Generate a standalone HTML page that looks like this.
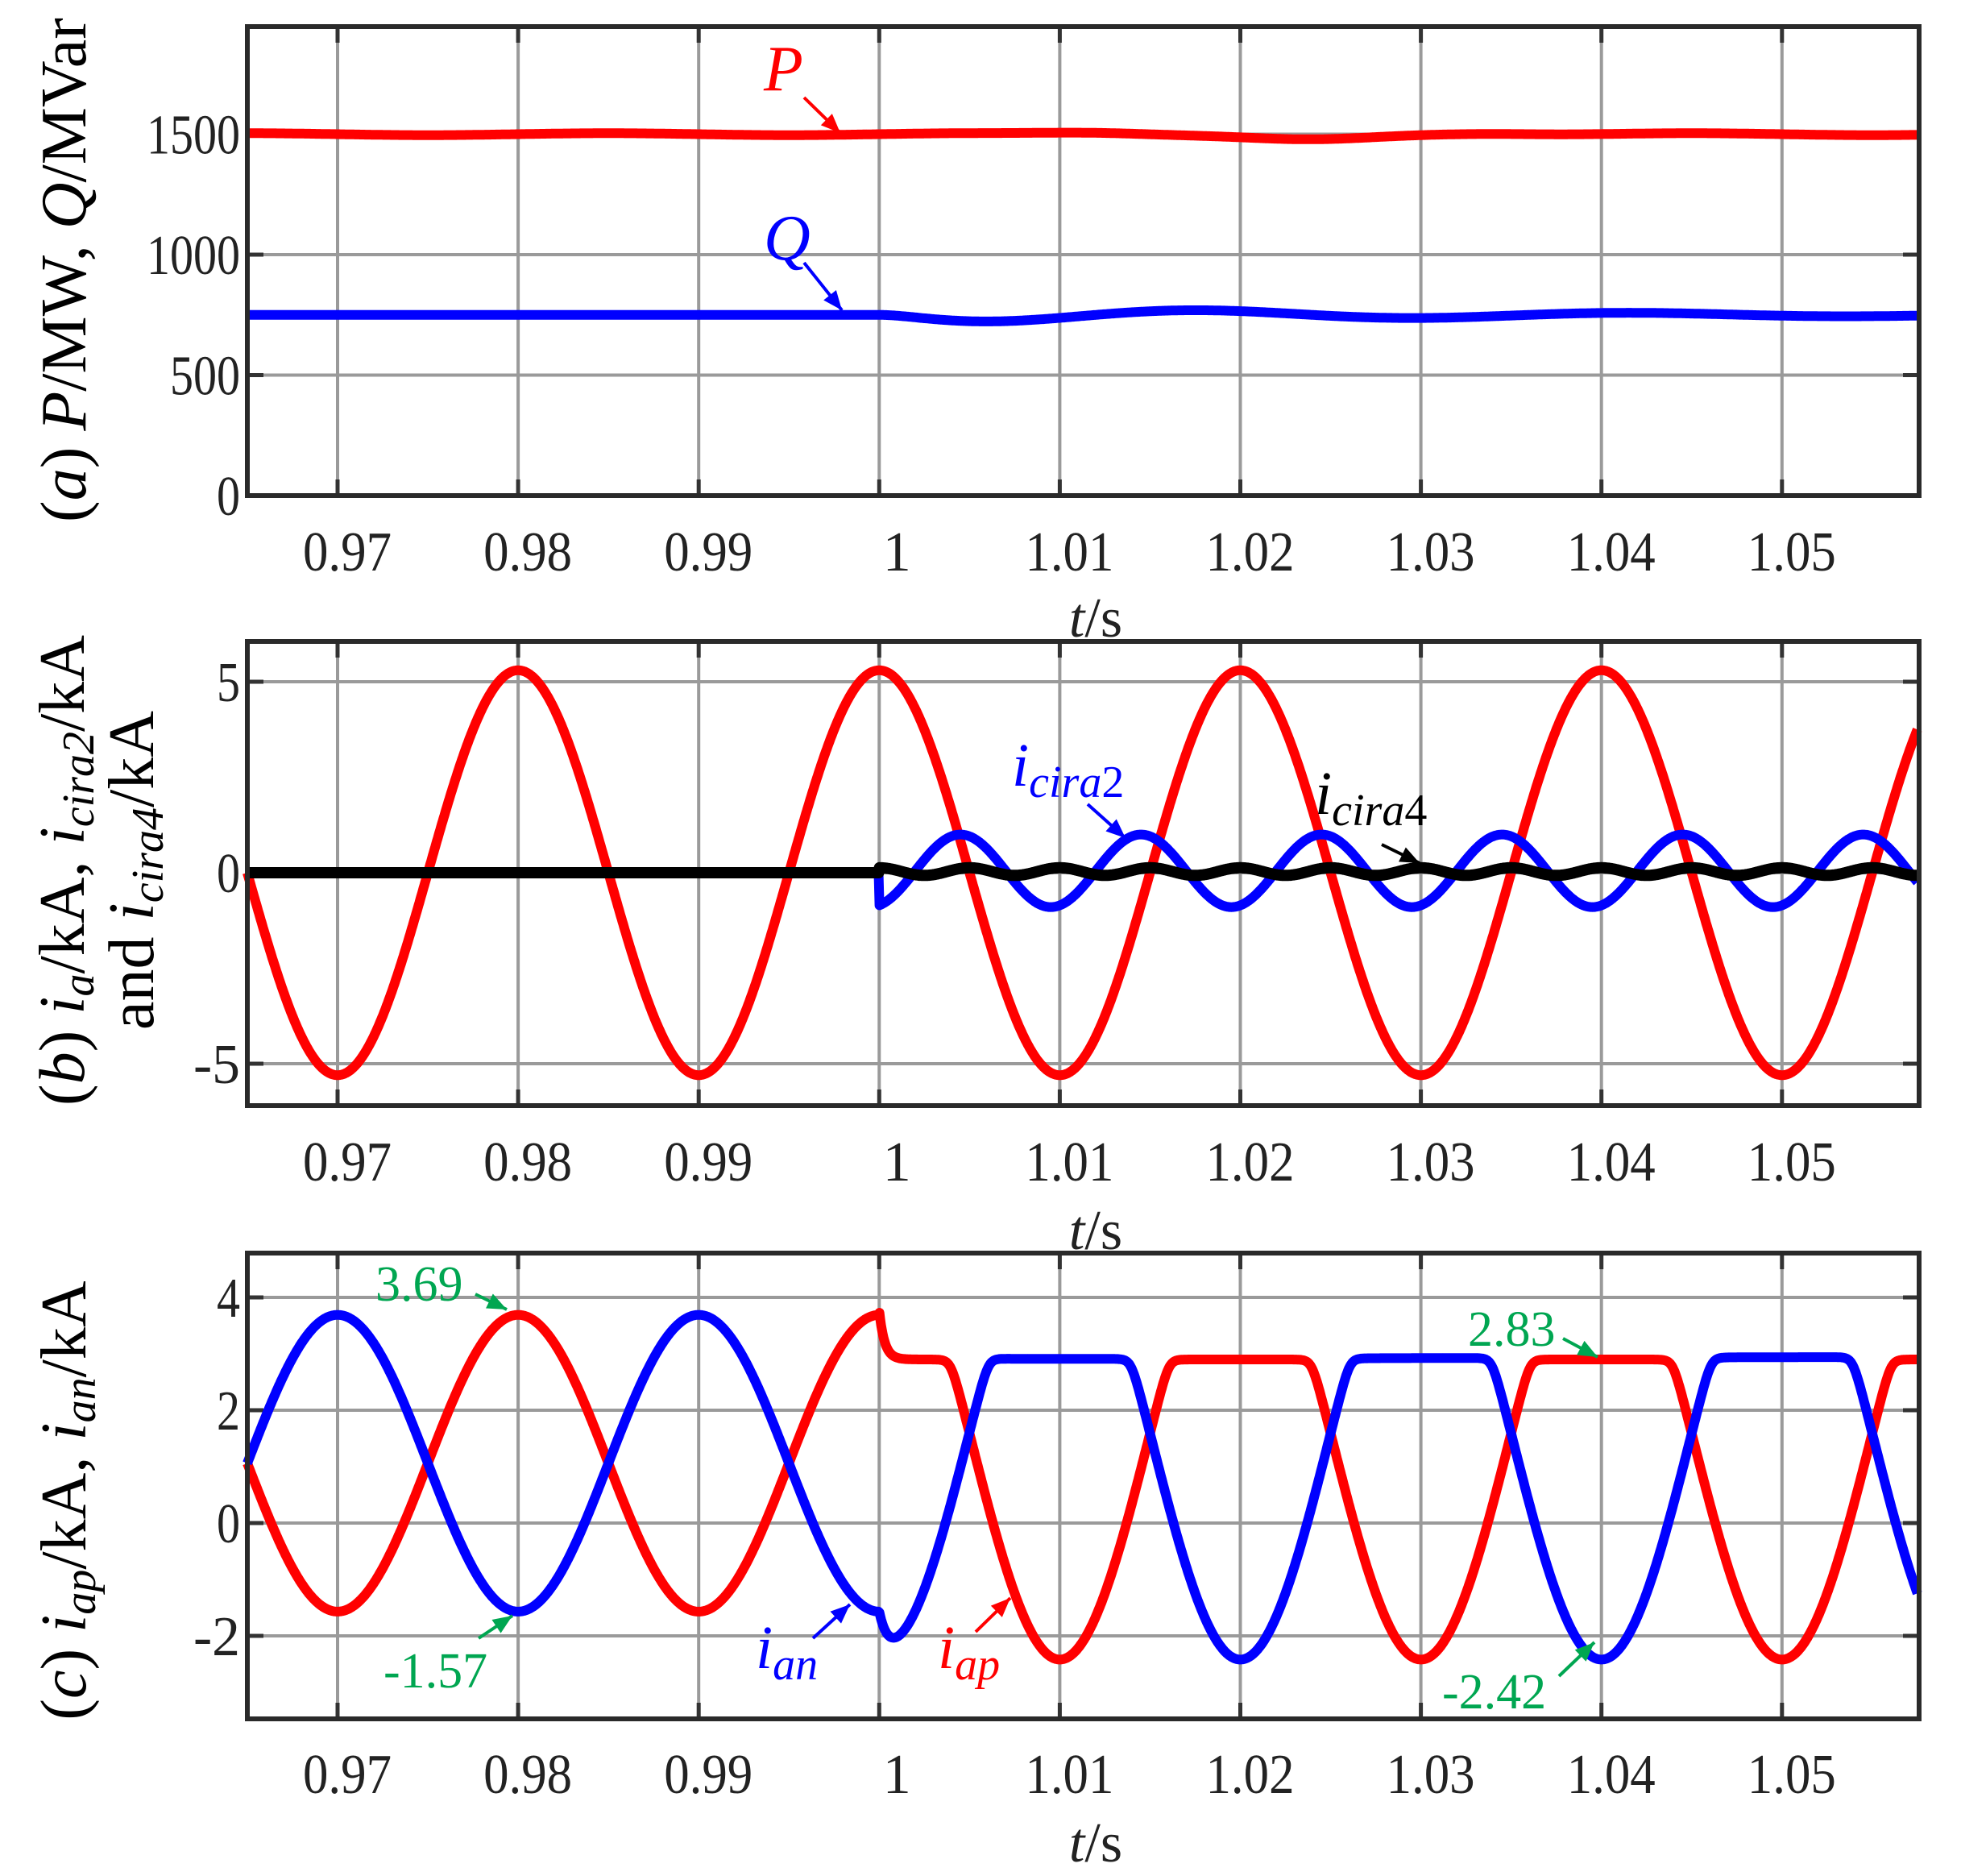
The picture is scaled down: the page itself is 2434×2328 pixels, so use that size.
<!DOCTYPE html>
<html><head><meta charset="utf-8"><style>
html,body{margin:0;padding:0;background:#fff}
svg{display:block}
text{font-family:"Liberation Serif",serif;fill:#222}
.tk{font-size:70px}
.ti{font-size:80px;fill:#000}
</style></head><body>
<svg id="s" width="2434" height="2328" viewBox="0 0 2434 2328" xmlns="http://www.w3.org/2000/svg">
<g id="g"></g>
<text x="948" y="112" style="font-size:80px;font-style:italic;fill:#f00">P</text>
<text x="948" y="322" style="font-size:80px;font-style:italic;fill:#00f">Q</text>
<text x="1256" y="975" style="font-size:76px;font-style:italic;fill:#00f">i<tspan dy="14" style="font-size:56px">cira</tspan><tspan style="font-size:56px;font-style:normal">2</tspan></text>
<text x="1632" y="1010" style="font-size:76px;font-style:italic;fill:#000">i<tspan dy="14" style="font-size:56px">cira</tspan><tspan style="font-size:56px;font-style:normal">4</tspan></text>
<text x="466" y="1614" style="font-size:62px;fill:#00a651">3.69</text>
<text x="476" y="2094" style="font-size:62px;fill:#00a651">-1.57</text>
<text x="1822" y="1670" style="font-size:62px;fill:#00a651">2.83</text>
<text x="1790" y="2120" style="font-size:62px;fill:#00a651">-2.42</text>
<text x="938" y="2070" style="font-size:76px;font-style:italic;fill:#00f">i<tspan dy="14" style="font-size:56px">an</tspan></text>
<text x="1164" y="2070" style="font-size:76px;font-style:italic;fill:#f00">i<tspan dy="14" style="font-size:56px">ap</tspan></text>
<text class="ti" transform="translate(106,335) rotate(-90)" text-anchor="middle">(<tspan font-style="italic">a</tspan>) <tspan font-style="italic">P</tspan>/MW, <tspan font-style="italic">Q</tspan>/MVar</text>
<text class="ti" transform="translate(104,1080) rotate(-90)" text-anchor="middle">(<tspan font-style="italic">b</tspan>) <tspan font-style="italic">i<tspan dy="12" font-size="56">a</tspan></tspan><tspan dy="-12">/kA, </tspan><tspan font-style="italic">i<tspan dy="12" font-size="56">cira2</tspan></tspan><tspan dy="-12">/kA</tspan></text>
<text class="ti" transform="translate(190,1080) rotate(-90)" text-anchor="middle">and  <tspan font-style="italic">i<tspan dy="12" font-size="56">cira4</tspan></tspan><tspan dy="-12">/kA</tspan></text>
<text class="ti" transform="translate(106,1862) rotate(-90)" text-anchor="middle">(<tspan font-style="italic">c</tspan>) <tspan font-style="italic">i<tspan dy="12" font-size="56">ap</tspan></tspan><tspan dy="-12">/kA, </tspan><tspan font-style="italic">i<tspan dy="12" font-size="56">an</tspan></tspan><tspan dy="-12">/kA</tspan></text>
</svg>
<script>
var NS="http://www.w3.org/2000/svg",G=document.getElementById('g');
function el(t,a,txt){var e=document.createElementNS(NS,t);for(var k in a)e.setAttribute(k,a[k]);if(txt!==undefined)e.textContent=txt;G.appendChild(e);return e;}
var L=307,R=2382,T0=0.965,T1=1.0575;
function X(t){return 419+(t-0.97)*22410;}
var PI=Math.PI;
function panel(top,bot,y0,ypx,yt,ylab,ticky,ts,series){
 var Y=function(v){return y0-v*ypx;};
 var labs=['0.97','0.98','0.99','1','1.01','1.02','1.03','1.04','1.05'];
 for(var k=0;k<9;k++){var x=X(0.97+k*0.01);el('line',{x1:x,x2:x,y1:top,y2:bot,stroke:'#9a9a9a','stroke-width':4});
  el('line',{x1:x,x2:x,y1:top,y2:top+20,stroke:'#333','stroke-width':5});el('line',{x1:x,x2:x,y1:bot,y2:bot-20,stroke:'#333','stroke-width':5});
  if(k==3) el('text',{x:x+22,y:ticky,'class':'tk','text-anchor':'middle'},'1');
  else el('text',{x:x+12,y:ticky,'class':'tk','text-anchor':'middle',textLength:110,lengthAdjust:'spacingAndGlyphs'},labs[k]);}
 yt.forEach(function(v,i){var y=Y(v);if(y>top+5&&y<bot-5)el('line',{x1:L,x2:R,y1:y,y2:y,stroke:'#9a9a9a','stroke-width':4});
  el('line',{x1:L,x2:L+20,y1:y,y2:y,stroke:'#333','stroke-width':5});el('line',{x1:R,x2:R-20,y1:y,y2:y,stroke:'#333','stroke-width':5});
  var s=ylab[i];el('text',{x:298,y:y+24,'class':'tk','text-anchor':'end',textLength:s.length*29,lengthAdjust:'spacingAndGlyphs'},s);});
 series.forEach(function(sr){var d='';for(var i=0;i<=2000;i++){var t=T0+(T1-T0)*i/2000;d+=(i?'L':'M')+X(t).toFixed(1)+','+Y(sr.f(t)).toFixed(1);}
  el('path',{d:d,fill:'none',stroke:sr.c,'stroke-width':sr.w,'stroke-linejoin':'round'});});
 el('rect',{x:L,y:top,width:R-L,height:bot-top,fill:'none',stroke:'#2a2a2a','stroke-width':6});
 var tx=el('text',{x:1360,y:ts,'class':'tk','text-anchor':'middle'});tx.innerHTML='<tspan font-style="italic">t</tspan>/s';
}
function Pf(t){var v=1500+4*Math.sin(2*PI*50*t);if(t>1.0){v+=8*Math.exp(-Math.pow((t-1.012)/0.004,2))-25*Math.exp(-Math.pow((t-1.024)/0.005,2))+5*Math.exp(-Math.pow((t-1.034)/0.004,2));}return v;}
function Qf(t){if(t<1.0)return 750;var u=t-1.0;return 750-35*Math.sin(2*PI*u/0.024)*Math.exp(-u/0.03)*(1-Math.exp(-u/0.002));}
panel(33,615,615,149.5/500,[0,500,1000,1500],['0','500','1000','1500'],708,790,[{f:Pf,c:'#f00',w:12},{f:Qf,c:'#00f',w:12}]);
function ia(t){return 5.3*Math.cos(2*PI*50*(t-0.98));}
function c2(t){if(t<1.0)return 0;return 0.05+0.95*Math.cos(2*PI*100*(t-1.0045));}
function c4(t){if(t<1.0)return 0;return 0.03+0.1*Math.cos(2*PI*200*(t-1.0));}
panel(796,1372,1083,237/5,[-5,0,5],['-5','0','5'],1465,1550,[{f:ia,c:'#f00',w:12},{f:c2,c:'#00f',w:12},{f:c4,c:'#000',w:14}]);
var A=4.01,B=1.59;
function smin(a,b){var k=0.2;return -k*Math.log(Math.exp(-a/k)+Math.exp(-b/k));}
function iap(t){if(t<1.0)return 1.06+2.63*Math.cos(2*PI*50*(t-0.98));var s=smin(B+A*Math.cos(2*PI*50*(t-1.0)),2.9);var u=t-1.0;return s+(3.69-2.83)*Math.exp(-u/0.0003);}
function ian(t){if(t<1.0)return 1.06-2.63*Math.cos(2*PI*50*(t-0.98));var s=smin(B-A*Math.cos(2*PI*50*(t-1.0)),2.9+0.8*(t-1.0));var u=t-1.0;return s+(-1.57+2.42)*Math.exp(-u/0.0004)+0.25*(1-Math.exp(-u/0.0004))*Math.exp(-u/0.002);}
panel(1555,2133,1890,140/2,[-2,0,2,4],['-2','0','2','4'],2225,2310,[{f:iap,c:'#f00',w:12},{f:ian,c:'#00f',w:12}]);
function arr(x1,y1,x2,y2,c){el('line',{x1:x1,y1:y1,x2:x2,y2:y2,stroke:c,'stroke-width':4});var a=Math.atan2(y2-y1,x2-x1),l=24,w=10;
 el('polygon',{points:x2+','+y2+' '+(x2-l*Math.cos(a)+w*Math.sin(a))+','+(y2-l*Math.sin(a)-w*Math.cos(a))+' '+(x2-l*Math.cos(a)-w*Math.sin(a))+','+(y2-l*Math.sin(a)+w*Math.cos(a)),fill:c});}
arr(998,121,1043,165,'#f00');arr(998,326,1045,385,'#00f');
arr(1350,998,1397,1040,'#00f');arr(1715,1048,1762,1071,'#000');
arr(590,1606,629,1625,'#00a651');arr(594,2033,636,2005,'#00a651');
arr(1009,2033,1055,1991,'#00f');arr(1211,2025,1254,1983,'#f00');
arr(1940,1661,1983,1684,'#00a651');arr(1935,2080,1979,2038,'#00a651');
</script>
</body></html>
